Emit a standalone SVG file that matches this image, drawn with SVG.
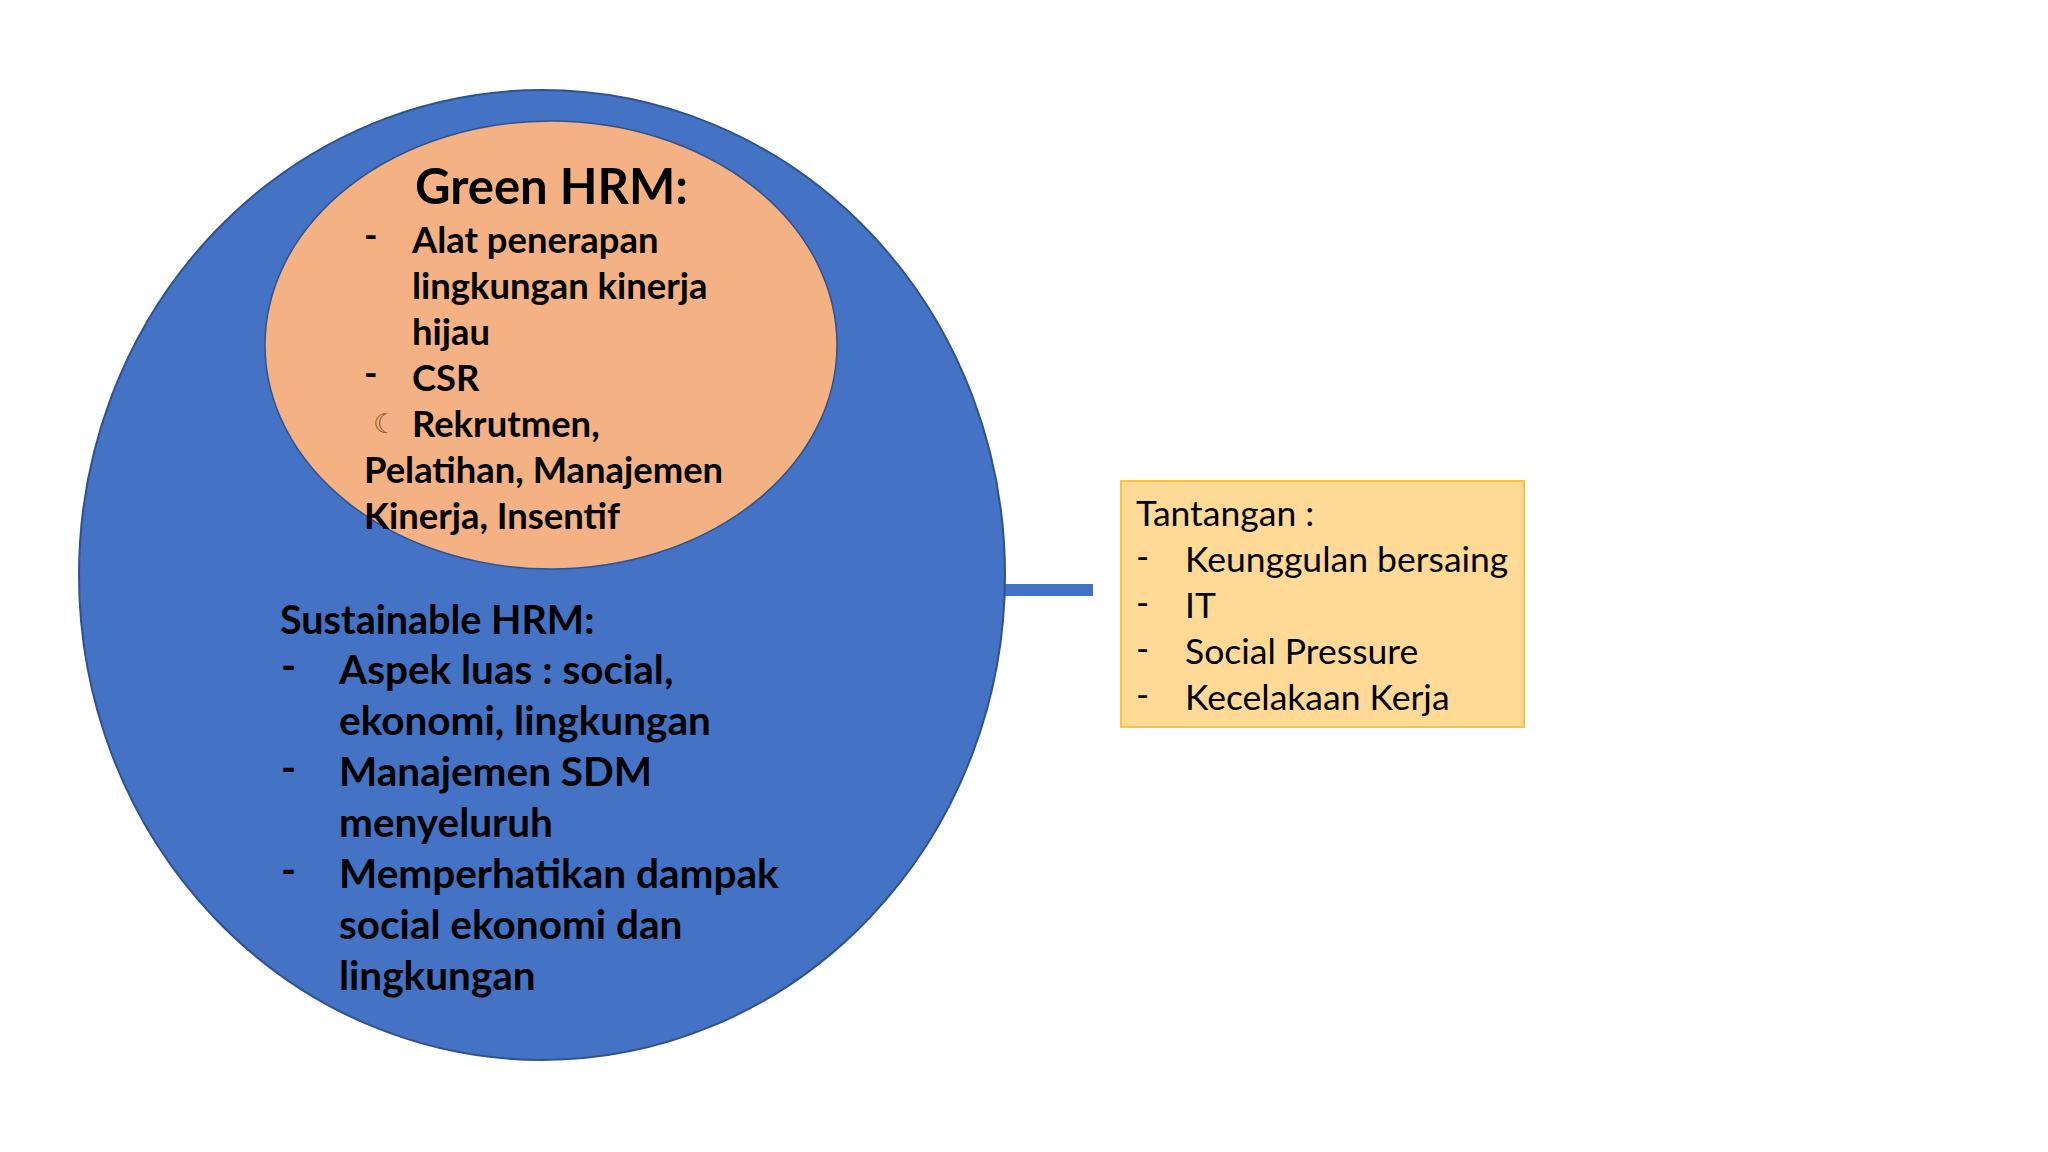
<svg xmlns="http://www.w3.org/2000/svg" width="2048" height="1152" viewBox="0 0 2048 1152">
<style>
.b{font-family:Lato,"Liberation Sans",sans-serif;font-weight:bold;fill:#000}
.r{font-family:Lato,"Liberation Sans",sans-serif;font-weight:normal;fill:#000}
</style>
<rect width="2048" height="1152" fill="#fff"/>
<g id="connectors">
<line x1="1004" y1="590" x2="1093" y2="590" stroke="#4472C4" stroke-width="12"/>
</g>
<g id="sustainable-hrm">
<ellipse cx="542" cy="575" rx="463" ry="485" fill="#4472C4" stroke="#2F528F" stroke-width="2"/>
<text class="b" font-size="39.5" x="280" y="634">Sustainable HRM:</text>
<g class="b" font-size="40.5">
<text x="281" y="680">-</text><text x="339" y="684">Aspek luas : social,</text>
<text x="339" y="735">ekonomi, lingkungan</text>
<text x="281" y="782">-</text><text x="339" y="786">Manajemen SDM</text>
<text x="339" y="837">menyeluruh</text>
<text x="281" y="884">-</text><text x="339" y="888">Memperhatikan dampak</text>
<text x="339" y="939">social ekonomi dan</text>
<text x="339" y="990">lingkungan</text>
</g>
</g>
<g id="green-hrm">
<ellipse cx="551" cy="345" rx="286" ry="224" fill="#F4B183" stroke="#2F528F" stroke-width="1.5"/>
<text class="b" font-size="49" x="415" y="204">Green HRM:</text>
<g class="b" font-size="36.4">
<text x="364" y="248">-</text><text x="412" y="253">Alat penerapan</text>
<text x="412" y="299">lingkungan kinerja</text>
<text x="412" y="345">hijau</text>
<text x="364" y="386">-</text><text x="412" y="391">CSR</text>
<text x="373" y="433" font-size="27" font-weight="normal" fill="#8a5a2a" style="font-family:'DejaVu Sans',sans-serif">☾</text>
<text x="412" y="437">Rekrutmen,</text>
<text x="364" y="483">Pelatihan, Manajemen</text>
<text x="364" y="529">Kinerja, Insentif</text>
</g>
</g>
<g id="tantangan">
<rect x="1121" y="481" width="403" height="246" fill="#FFD996" stroke="#F5C445" stroke-width="2"/>
<g class="r" font-size="35.5">
<text x="1136" y="526">Tantangan :</text>
<text x="1136" y="569">-</text><text x="1185" y="572">Keunggulan bersaing</text>
<text x="1136" y="615">-</text><text x="1185" y="618">IT</text>
<text x="1136" y="661">-</text><text x="1185" y="664">Social Pressure</text>
<text x="1136" y="707">-</text><text x="1185" y="710">Kecelakaan Kerja</text>
</g>
</g>
</svg>
